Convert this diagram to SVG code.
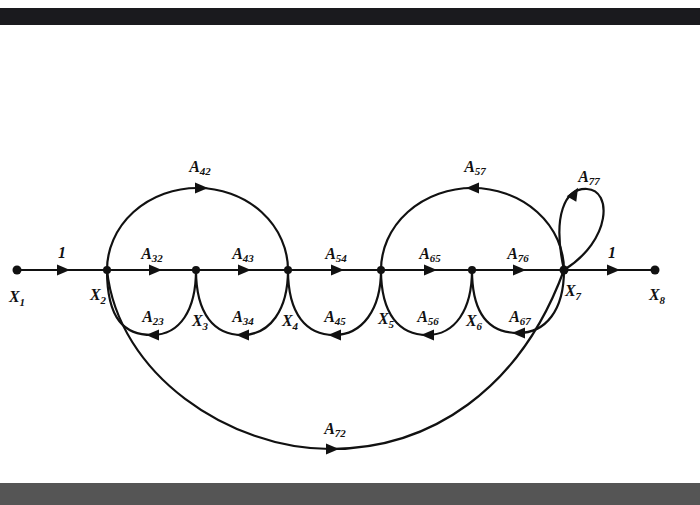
<svg xmlns="http://www.w3.org/2000/svg" xmlns:xlink="http://www.w3.org/1999/xlink" width="700" height="505" viewBox="0 0 700 505">
<style>
.e{fill:none;stroke:#111;stroke-width:2.2}
.t{font-family:"Liberation Serif",serif;font-style:italic;font-weight:bold;font-size:16px;fill:#111;text-anchor:middle}
.s{font-size:11px}
.n{fill:#111}
</style>
<defs><path id="ah" d="M6,0 L-7,-5.5 L-7,5.5 Z" fill="#111"/></defs>
<rect width="700" height="505" fill="#fff"/>
<rect x="0" y="8" width="700" height="17" fill="#1a1a1e"/>
<rect x="0" y="483" width="700" height="22" fill="#555"/>
<g id="connectors">
<path class="e" d="M17,270 H655"/>
<path class="e" d="M107,270 A90.5,82 0 0 1 288,270"/>
<path class="e" d="M381,270 A91.5,82 0 0 1 564,270"/>
<path class="e" d="M564,270 C552,215 565,188 587,189 C612,190 612,240 564,270"/>
<path class="e" d="M107,270 C107,320 125,335 152,335 C180,335 196,310 196,270"/>
<path class="e" d="M196,270 C196,315 215,335 242,335 C270,335 288,310 288,270"/>
<path class="e" d="M288,270 C288,315 307,335 334,335 C362,335 381,310 381,270"/>
<path class="e" d="M381,270 C381,315 400,335 427,335 C455,335 472,310 472,270"/>
<path class="e" d="M472,270 C472,315 490,333 518,333 C546,333 564,310 564,270"/>
<path class="e" d="M107,270 C118,375 230,449 330,449 C430,449 520,390 564,270"/>
<use xlink:href="#ah" transform="translate(64,270)"/>
<use xlink:href="#ah" transform="translate(156,270)"/>
<use xlink:href="#ah" transform="translate(245,270)"/>
<use xlink:href="#ah" transform="translate(338,270)"/>
<use xlink:href="#ah" transform="translate(431,270)"/>
<use xlink:href="#ah" transform="translate(520,270)"/>
<use xlink:href="#ah" transform="translate(614,270)"/>
<use xlink:href="#ah" transform="translate(202,188)"/>
<use xlink:href="#ah" transform="translate(472,188) rotate(180)"/>
<use xlink:href="#ah" transform="translate(575,193) rotate(-60)"/>
<use xlink:href="#ah" transform="translate(152,335) rotate(180)"/>
<use xlink:href="#ah" transform="translate(242,335) rotate(180)"/>
<use xlink:href="#ah" transform="translate(334,335) rotate(180)"/>
<use xlink:href="#ah" transform="translate(427,335) rotate(180)"/>
<use xlink:href="#ah" transform="translate(518,333) rotate(180)"/>
<use xlink:href="#ah" transform="translate(333,449)"/>
</g>
<g id="X1"><circle class="n" cx="17" cy="270" r="4.5"/><text class="t" x="17" y="302">X<tspan class="s" dy="4">1</tspan></text></g>
<g id="X2"><circle class="n" cx="107" cy="270" r="4"/><text class="t" x="98" y="300">X<tspan class="s" dy="4">2</tspan></text></g>
<g id="X3"><circle class="n" cx="196" cy="270" r="4"/><text class="t" x="200" y="326">X<tspan class="s" dy="4">3</tspan></text></g>
<g id="X4"><circle class="n" cx="288" cy="270" r="4"/><text class="t" x="290" y="326">X<tspan class="s" dy="4">4</tspan></text></g>
<g id="X5"><circle class="n" cx="381" cy="270" r="4"/><text class="t" x="386" y="324">X<tspan class="s" dy="4">5</tspan></text></g>
<g id="X6"><circle class="n" cx="472" cy="270" r="4"/><text class="t" x="474" y="326">X<tspan class="s" dy="4">6</tspan></text></g>
<g id="X7"><circle class="n" cx="564" cy="270" r="4.5"/><text class="t" x="573" y="296">X<tspan class="s" dy="4">7</tspan></text></g>
<g id="X8"><circle class="n" cx="655" cy="270" r="4.5"/><text class="t" x="657" y="300">X<tspan class="s" dy="4">8</tspan></text></g>
<g id="labels">
<text class="t" x="62" y="258">1</text>
<text class="t" x="612" y="258">1</text>
<text class="t" x="152" y="259">A<tspan class="s" dy="3">32</tspan></text>
<text class="t" x="243" y="259">A<tspan class="s" dy="3">43</tspan></text>
<text class="t" x="336" y="259">A<tspan class="s" dy="3">54</tspan></text>
<text class="t" x="430" y="259">A<tspan class="s" dy="3">65</tspan></text>
<text class="t" x="518" y="259">A<tspan class="s" dy="3">76</tspan></text>
<text class="t" x="200" y="172">A<tspan class="s" dy="3">42</tspan></text>
<text class="t" x="475" y="172">A<tspan class="s" dy="3">57</tspan></text>
<text class="t" x="589" y="182">A<tspan class="s" dy="3">77</tspan></text>
<text class="t" x="153" y="322">A<tspan class="s" dy="3">23</tspan></text>
<text class="t" x="243" y="322">A<tspan class="s" dy="3">34</tspan></text>
<text class="t" x="335" y="322">A<tspan class="s" dy="3">45</tspan></text>
<text class="t" x="428" y="322">A<tspan class="s" dy="3">56</tspan></text>
<text class="t" x="520" y="322">A<tspan class="s" dy="3">67</tspan></text>
<text class="t" x="335" y="434">A<tspan class="s" dy="3">72</tspan></text>
</g>
</svg>
